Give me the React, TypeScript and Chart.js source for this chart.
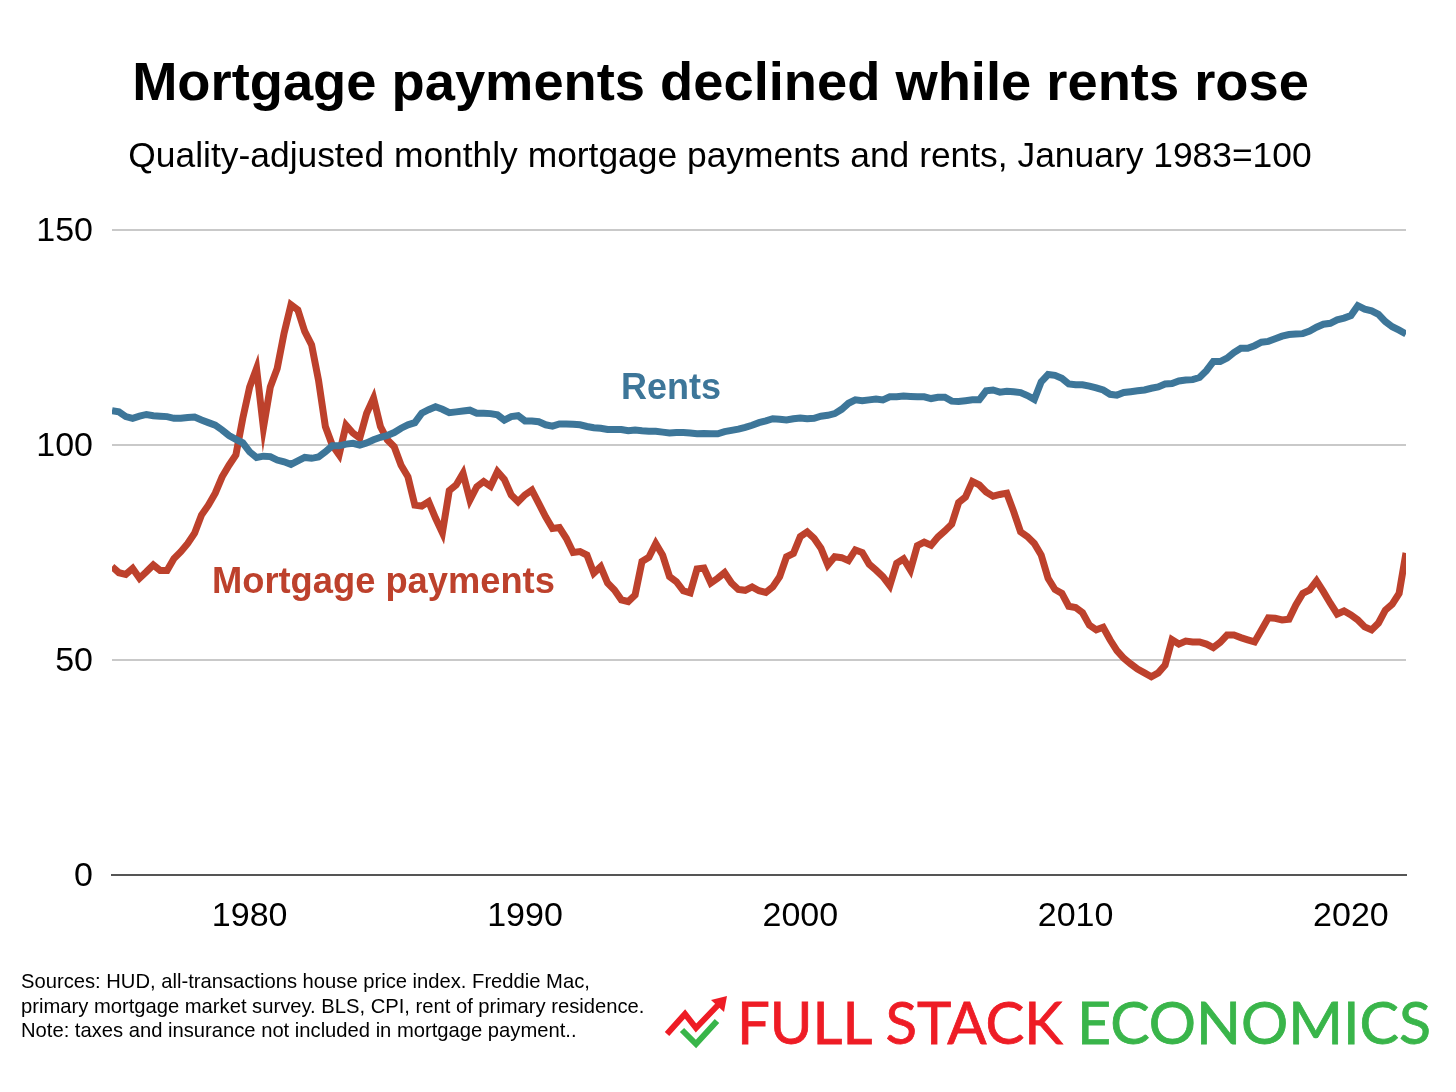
import { useEffect, useRef } from "react"
import { Chart, registerables } from "chart.js"

Chart.register(...registerables)

const startYear = 1975
const quarterCount = 189
const xTickYears = ["1980", "1990", "2000", "2010", "2020"]
const yTicks = [0, 50, 100, 150]

const rents = [
  108, 107.7, 106.6, 106.2, 106.7, 107.1, 106.8, 106.7, 106.6, 106.2, 106.2, 106.4, 106.5, 105.8, 105.2, 104.6, 103.5, 102.2, 101.3, 100.5,
  98.4, 97.1, 97.4, 97.3, 96.5, 96.1, 95.5, 96.3, 97.1, 96.9, 97.2, 98.4, 99.8, 99.8, 100.2, 100.4, 100, 100.5, 101.2, 101.8,
  102.2, 102.9, 103.9, 104.7, 105.2, 107.4, 108.2, 108.9, 108.3, 107.5, 107.7, 107.9, 108.1, 107.4, 107.4, 107.3, 107, 105.8, 106.6, 106.8,
  105.6, 105.6, 105.4, 104.7, 104.4, 104.9, 104.9, 104.8, 104.7, 104.3, 104, 103.9, 103.6, 103.6, 103.6, 103.3, 103.5, 103.3, 103.2, 103.2,
  103, 102.8, 102.9, 102.9, 102.8, 102.6, 102.7, 102.6, 102.6, 103.1, 103.4, 103.7, 104.1, 104.6, 105.2, 105.6, 106.1, 106, 105.8, 106.1,
  106.3, 106.1, 106.2, 106.7, 106.9, 107.3, 108.3, 109.7, 110.5, 110.3, 110.5, 110.7, 110.5, 111.2, 111.2, 111.4, 111.3, 111.2, 111.2, 110.8,
  111.1, 111.1, 110.2, 110.1, 110.3, 110.5, 110.5, 112.6, 112.8, 112.3, 112.5, 112.4, 112.2, 111.5, 110.6, 114.7, 116.4, 116.2, 115.5, 114.2,
  114, 114, 113.7, 113.3, 112.8, 111.8, 111.6, 112.2, 112.4, 112.6, 112.8, 113.2, 113.5, 114.2, 114.3, 114.9, 115.1, 115.2, 115.7, 117.3,
  119.4, 119.4, 120.2, 121.5, 122.5, 122.5, 123.1, 123.9, 124.1, 124.7, 125.3, 125.7, 125.8, 125.9, 126.5, 127.4, 128.1, 128.3, 129.1, 129.5,
  130.1, 132.4, 131.6, 131.2, 130.4, 128.7, 127.5, 126.7, 125.8,
]

const mortgagePayments = [
  71.7, 70.3, 69.9, 71.3, 69, 70.5, 72.1, 70.8, 70.8, 73.6, 75.2, 77.1, 79.5, 83.7, 86, 88.8, 92.6, 95.3, 97.7, 106.2,
  113.5, 117.8, 104, 113.5, 117.8, 126, 132.6, 131.4, 126.4, 123.3, 115.1, 104.3, 100, 97.7, 104.6, 102.8, 101.6, 107.4, 110.9, 104.3,
  101.2, 99.6, 95.3, 92.6, 86, 85.8, 86.8, 83, 79.6, 89.4, 90.7, 93.4, 87.2, 90.3, 91.5, 90.4, 93.8, 92, 88.4, 86.8,
  88.4, 89.5, 86.4, 83.3, 80.6, 80.8, 78.3, 75, 75.2, 74.4, 70.2, 71.7, 67.9, 66.3, 64, 63.6, 65.1, 72.9, 73.9, 77.1,
  74.4, 69.4, 68.2, 66.1, 65.6, 71.2, 71.4, 67.9, 69, 70.3, 67.9, 66.4, 66.2, 67, 66.1, 65.7, 67, 69.4, 74, 74.8,
  78.7, 79.8, 78.3, 76, 72.1, 74, 73.8, 73.1, 75.6, 75, 72.3, 70.9, 69.4, 67.3, 72.5, 73.5, 70.9, 76.6, 77.4, 76.7,
  78.6, 80, 81.6, 86.6, 87.9, 91.5, 90.7, 89.1, 88.1, 88.5, 88.8, 84.5, 79.8, 78.7, 77.1, 74.4, 69, 66.4, 65.5, 62.5,
  62.2, 61, 58.1, 57, 57.6, 54.7, 52.2, 50.4, 49.1, 47.9, 47, 46.1, 47, 48.8, 54.7, 53.7, 54.4, 54.2, 54.2, 53.7,
  52.9, 54.1, 55.8, 55.8, 55.2, 54.7, 54.2, 57, 59.8, 59.7, 59.3, 59.5, 62.8, 65.5, 66.3, 68.4, 65.9, 63.2, 60.7, 61.4,
  60.5, 59.3, 57.7, 57, 58.6, 61.6, 63, 65.5, 74.9,
]

const quarterLabels = Array.from({ length: quarterCount }, (_, i) => `${startYear + Math.floor(i / 4)} Q${(i % 4) + 1}`)

const SANS = "'Liberation Sans', Arial, sans-serif"
const RED = "#bd412c"
const BLUE = "#3d7699"
const LOGO_RED = "#ee1c25"
const LOGO_GREEN = "#39b54a"

function Text({ style, children }: { style: React.CSSProperties; children: React.ReactNode }) {
  return <div style={{ position: "absolute", fontFamily: SANS, whiteSpace: "nowrap", color: "#000", ...style }}>{children}</div>
}

function Logo() {
  const word = { top: 986, fontFamily: "Lato", fontSize: 59, lineHeight: "72px", transformOrigin: "0 50%", WebkitTextStroke: "0.8px" }
  return (
    <>
      <svg width={70} height={60} viewBox="660 990 70 60" style={{ position: "absolute", left: 660, top: 990 }}>
        <polyline points="667,1034 685,1014 696,1028 719,1004" fill="none" stroke={LOGO_RED} strokeWidth={6} />
        <polygon points="727,996 711,1000 724,1012" fill={LOGO_RED} />
        <polyline points="682,1030 696,1044 717,1021" fill="none" stroke={LOGO_GREEN} strokeWidth={6} />
      </svg>
      <Text style={{ ...word, left: 737, color: LOGO_RED, transform: "scaleX(0.985)" }}>FULL STACK</Text>
      <Text style={{ ...word, left: 1077, color: LOGO_GREEN, transform: "scaleX(1)" }}>ECONOMICS</Text>
    </>
  )
}

export default function App() {
  const canvasRef = useRef<HTMLCanvasElement>(null)

  useEffect(() => {
    document.body.style.margin = "0"
    const ctx = canvasRef.current?.getContext("2d")
    if (!ctx) return

    const chart = new Chart(ctx, {
      type: "line",
      data: {
        labels: quarterLabels,
        datasets: [
          { label: "Mortgage payments", data: mortgagePayments, borderColor: RED, borderWidth: 7, pointRadius: 0, tension: 0, borderJoinStyle: "miter", clip: 0, order: 2 },
          { label: "Rents", data: rents, borderColor: BLUE, borderWidth: 7, pointRadius: 0, tension: 0, borderJoinStyle: "miter", clip: 0, order: 1 },
        ],
      },
      options: {
        responsive: false,
        animation: false,
        layout: { padding: { top: 230, right: 50, left: 0, bottom: 0 } },
        plugins: { legend: { display: false }, tooltip: { enabled: false } },
        scales: {
          x: {
            afterFit: s => { s.height = 217 },
            grid: { display: false },
            border: { color: "#555", width: 2 },
            ticks: {
              autoSkip: false,
              maxRotation: 0,
              padding: 13,
              color: "#000",
              font: { family: SANS, size: 34 },
              callback(value) {
                const label = this.getLabelForValue(value as number)
                return label.endsWith("Q1") && xTickYears.includes(label.slice(0, 4)) ? label.slice(0, 4) : ""
              },
            },
          },
          y: {
            min: 0,
            max: 150,
            afterFit: s => { s.width = 112 },
            afterBuildTicks: s => { s.ticks = yTicks.map(value => ({ value })) },
            border: { display: false },
            grid: { color: ctx => (ctx.tick.value === 0 ? "transparent" : "#c9c9c9"), lineWidth: 2, drawTicks: false },
            ticks: { padding: 19, labelOffset: 2, color: "#000", font: { family: SANS, size: 34 } },
          },
        },
      },
    })

    return () => { chart.destroy() }
  }, [])

  return (
    <div style={{ position: "relative", width: 1456, height: 1092, background: "#fff", overflow: "hidden" }}>
      <canvas ref={canvasRef} width={1456} height={1092} style={{ position: "absolute", left: 0, top: 0 }} aria-label="Mortgage payments and rents, 1975 to 2022" role="img" />

      <Text style={{ left: 0, width: 1441, top: 50, textAlign: "center", fontSize: 54.3, lineHeight: "64px", fontWeight: 700 }}>Mortgage payments declined while rents rose</Text>
      <Text style={{ left: 0, width: 1440, top: 133, textAlign: "center", fontSize: 35.4, lineHeight: "44px" }}>Quality-adjusted monthly mortgage payments and rents, January 1983=100</Text>

      <Text style={{ left: 621, top: 367, fontSize: 36, lineHeight: "40px", fontWeight: 700, color: BLUE }}>Rents</Text>
      <Text style={{ left: 212, top: 561, fontSize: 36.3, lineHeight: "40px", fontWeight: 700, color: RED }}>Mortgage payments</Text>

      <Text style={{ left: 21, top: 969, fontSize: 20.2, lineHeight: "24.5px" }}>
        Sources: HUD, all-transactions house price index. Freddie Mac,<br />
        primary mortgage market survey. BLS, CPI, rent of primary residence.<br />
        Note: taxes and insurance not included in mortgage payment..
      </Text>
      <Logo />
    </div>
  )
}
